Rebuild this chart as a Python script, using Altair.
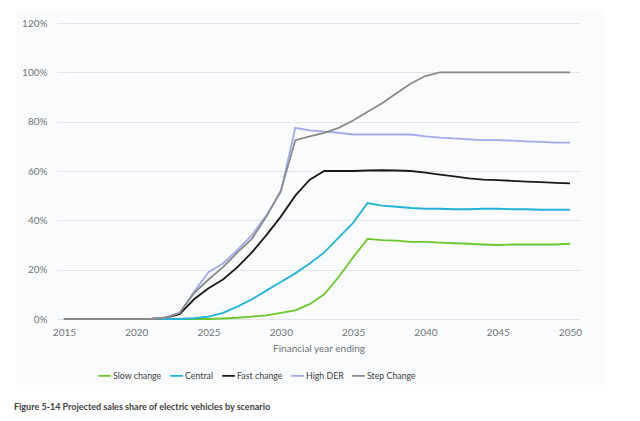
import altair as alt
import pandas as pd

years = list(range(2015, 2051))

slow = [0, 0, 0, 0, 0, 0, 0, 0, 0, 0, 0, 0.2, 0.5, 1, 1.5, 2.5, 3.5, 6, 10, 17, 25, 32.5,
        32, 31.8, 31.3, 31.3, 31, 30.7, 30.5, 30.2, 30, 30.2, 30.2, 30.2, 30.2, 30.5]
central = [0, 0, 0, 0, 0, 0, 0, 0, 0, 0.3, 1, 2.5, 5, 8, 11.5, 15, 18.5, 22.5, 27, 33, 39, 47,
           46, 45.5, 45, 44.7, 44.7, 44.5, 44.5, 44.7, 44.7, 44.5, 44.5, 44.3, 44.3, 44.3]
fast = [0, 0, 0, 0, 0, 0, 0, 0.5, 2, 8, 12.5, 16, 21, 27, 34, 41.5, 50, 56.5, 60, 60, 60, 60.2,
        60.3, 60.2, 60, 59.3, 58.5, 57.8, 57, 56.5, 56.3, 56, 55.7, 55.5, 55.2, 55]
high_der = [0, 0, 0, 0, 0, 0, 0, 0.5, 2.5, 11, 19, 22.5, 28, 34, 42, 51.5, 77.5, 76.5, 76, 75.5,
            74.8, 74.8, 74.8, 74.8, 74.8, 74, 73.5, 73.2, 72.8, 72.5, 72.5, 72.3, 72, 71.8, 71.5, 71.5]
step = [0, 0, 0, 0, 0, 0, 0, 0.5, 2.5, 10.5, 16, 21, 27, 32.5, 41.5, 52, 72.5, 74, 75.5, 77.5,
        80.5, 84, 87.5, 91.5, 95.5, 98.5, 100, 100, 100, 100, 100, 100, 100, 100, 100, 100]

scenarios = ["Slow change", "Central", "Fast change", "High DER", "Step Change"]
colors = ["#6cc72b", "#22b2d6", "#1a1a1a", "#a3aaeb", "#8a8a8a"]
series = [slow, central, fast, high_der, step]

rows = []
for name, vals in zip(scenarios, series):
    for y, v in zip(years, vals):
        rows.append({"year": y, "share": v / 100.0, "scenario": name})
df = pd.DataFrame(rows)

FONT = "Lato"
W, H = 523, 296

bg = alt.Chart(pd.DataFrame({"a": [0]})).mark_rect(color="#dde9f3", opacity=0.18).encode(
    x=alt.value(-40), x2=alt.value(548), y=alt.value(-13), y2=alt.value(362)
)

lines = alt.Chart(df).mark_line(strokeWidth=1.8).encode(
    x=alt.X("year:Q", scale=alt.Scale(domain=[2014.52, 2050.69], nice=False, zero=False),
            axis=alt.Axis(values=list(range(2015, 2051, 5)), format="d", grid=False,
                          domain=False, ticks=False, labelPadding=8,
                          title="Financial year ending", titlePadding=6)),
    y=alt.Y("share:Q", scale=alt.Scale(domain=[0, 1.2], nice=False),
            axis=alt.Axis(values=[0, 0.2, 0.4, 0.6, 0.8, 1.0, 1.2], format=".0%",
                          domain=False, ticks=False, labelPadding=10, title=None,
                          gridColor="#e3e6ea")),
    color=alt.Color("scenario:N", scale=alt.Scale(domain=scenarios, range=colors),
                    sort=scenarios,
                    legend=alt.Legend(orient="none", legendX=40, legendY=345,
                                      direction="horizontal", title=None,
                                      symbolType="stroke", symbolSize=160,
                                      symbolStrokeWidth=1.8, labelFontSize=8.8,
                                      labelColor="#404040", labelFont=FONT,
                                      columnPadding=4, symbolOffset=0,
                                      labelOffset=1)),
)

caption = alt.Chart(pd.DataFrame({"t": ["Figure 5-14 Projected sales share of electric vehicles by scenario"]})).mark_text(
    align="left", baseline="middle", font=FONT, fontSize=9, fontWeight="bold", color="#404040"
).encode(text="t:N", x=alt.value(-43), y=alt.value(384))

chart = alt.layer(bg, lines, caption).properties(
    width=W, height=H,
    autosize=alt.AutoSizeParams(type="none"),
    padding={"left": 57, "top": 23, "right": 60, "bottom": 102},
    background="white",
).configure_view(stroke=None).configure_axis(
    labelFont=FONT, labelFontSize=10, labelColor="#595959",
    titleFont=FONT, titleFontSize=10, titleColor="#595959", titleFontWeight="normal",
)

chart.save("out.html", embed_options={"renderer": "svg", "actions": False})
